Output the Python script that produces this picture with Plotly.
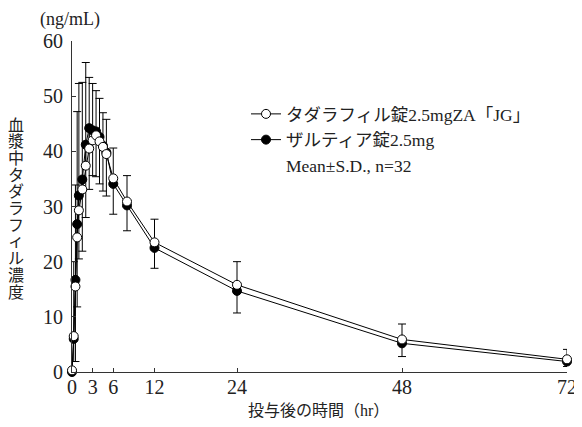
import plotly.graph_objects as go

# --- data ---
time_hr = [0, 0.25, 0.5, 0.75, 1, 1.5, 2, 2.5, 3, 3.5, 4, 4.5, 5, 6, 8, 12, 24, 48, 72]
za_jg_mean = [0.3, 6.5, 15.5, 24.4, 29.3, 33.1, 37.4, 40.5, 42.0, 42.9, 41.8, 40.8, 39.5, 35.1, 30.9, 23.5, 15.8, 5.9, 2.3]
za_jg_upper = [0.3, 20.0, 33.9, 47.2, 52.3, 52.5, 56.1, 53.4, 52.3, 51.0, 49.6, 47.0, 45.8, 40.6, 35.6, 27.7, 20.0, 8.7, 4.1]
zalutia_mean = [0.0, 6.0, 16.7, 26.8, 32.0, 34.9, 41.2, 44.2, 43.8, 43.6, 42.6, 41.0, 39.8, 34.1, 30.2, 22.5, 14.7, 5.2, 1.9]
zalutia_lower = [0.0, 1.9, 1.9, 11.8, 20.5, 21.9, 28.0, 33.1, 35.6, 35.4, 34.1, 32.8, 31.9, 28.6, 25.6, 18.8, 10.7, 2.8, 1.0]
x_ticks = [0, 3, 6, 12, 24, 48, 72]
y_ticks = [0, 10, 20, 30, 40, 50, 60]

name_a = "タダラフィル錠2.5mgZA「JG」"
name_b = "ザルティア錠2.5mg"
note = "Mean±S.D., n=32"
x_title = "投与後の時間（hr）"
y_title = "血漿中タダラフィル濃度"
unit = "(ng/mL)"

FONT = "Liberation Serif, Noto Sans CJK JP, serif"

up_a = [u - m for u, m in zip(za_jg_upper, za_jg_mean)]
dn_b = [m - l for m, l in zip(zalutia_mean, zalutia_lower)]

fig = go.Figure()
fig.add_trace(go.Scatter(
    x=time_hr, y=zalutia_mean, name=name_b, mode="lines+markers",
    line=dict(color="black", width=1),
    marker=dict(symbol="circle", size=9, color="black", line=dict(color="black", width=1)),
    error_y=dict(type="data", symmetric=False, array=[0] * len(dn_b), arrayminus=dn_b,
                 color="black", thickness=1, width=4),
    cliponaxis=False, legendrank=2,
))
fig.add_trace(go.Scatter(
    x=time_hr, y=za_jg_mean, name=name_a, mode="lines+markers",
    line=dict(color="black", width=1),
    marker=dict(symbol="circle", size=9, color="white", line=dict(color="black", width=1)),
    error_y=dict(type="data", symmetric=False, array=up_a, arrayminus=[0] * len(up_a),
                 color="black", thickness=1, width=4),
    cliponaxis=False, legendrank=1,
))
fig.add_trace(go.Scatter(
    x=[None], y=[None], name=note, mode="lines",
    line=dict(color="rgba(0,0,0,0)", width=0), legendrank=3,
))

L, R, T, B = 64, 23, 33, 63
W, H = 582, 427
PW = W - L - R
PH = H - T - B


def px(xpix):
    return (xpix - L) / PW


def py(ypix):
    return (H - B - ypix) / PH


fig.update_layout(
    width=W, height=H,
    margin=dict(l=L, r=R, t=T, b=B, autoexpand=False),
    paper_bgcolor="white", plot_bgcolor="white",
    font=dict(family=FONT, size=20, color="#222"),
    showlegend=True,
    legend=dict(x=px(238), y=py(88), xanchor="left", yanchor="top",
                bgcolor="rgba(0,0,0,0)", font=dict(size=17.5, family=FONT, color="#222"),
                itemwidth=30, tracegroupgap=0),
    xaxis=dict(range=[0, 72], tickmode="array", tickvals=x_ticks, ticktext=[str(v) for v in x_ticks],
               showline=True, linecolor="#333", linewidth=1, ticks="inside", ticklen=4,
               tickcolor="#333", showgrid=False, zeroline=False, automargin=False,
               tickfont=dict(size=20, family=FONT, color="#222"), ticklabelstandoff=-3),
    yaxis=dict(range=[0, 60], tickmode="array", tickvals=y_ticks, ticktext=[str(v) for v in y_ticks],
               showline=True, linecolor="#333", linewidth=1, ticks="inside", ticklen=4,
               tickcolor="#333", showgrid=False, zeroline=False, automargin=False,
               tickfont=dict(size=20, family=FONT, color="#222"), ticklabelstandoff=4),
)

ann = []
ann.append(dict(text=x_title, xref="paper", yref="paper", x=px(310), y=py(402), xanchor="center",
                yanchor="middle", showarrow=False, font=dict(size=16, family=FONT, color="#222")))
ann.append(dict(text=unit, xref="paper", yref="paper", x=px(62), y=py(0), xanchor="center",
                yanchor="top", showarrow=False, borderpad=0,
                font=dict(size=18, family=FONT, color="#222")))
for i, ch in enumerate(y_title):
    ann.append(dict(text=ch, xref="paper", yref="paper", x=px(7.7), y=py(117 + i * 16.7),
                    xanchor="center", yanchor="middle", showarrow=False,
                    font=dict(size=16, family=FONT, color="#222")))
fig.update_layout(annotations=ann)

fig.write_html("out.html")
